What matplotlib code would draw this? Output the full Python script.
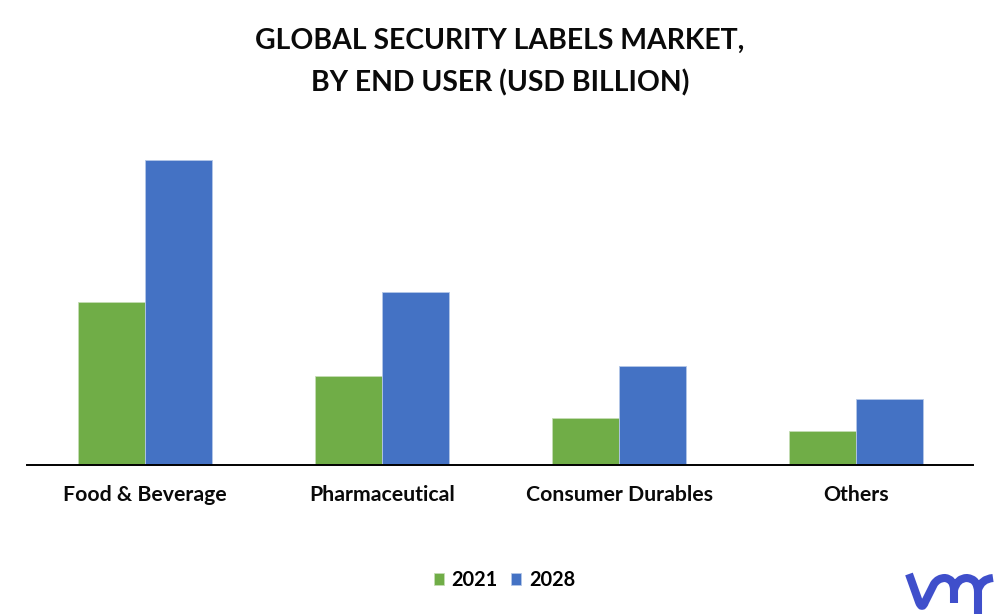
import matplotlib
matplotlib.use("Agg")
import matplotlib.pyplot as plt
from matplotlib.path import Path
from matplotlib.patches import PathPatch

categories = ["Food & Beverage", "Pharmaceutical", "Consumer Durables", "Others"]
values_2021 = [16.3, 8.9, 4.7, 3.4]
values_2028 = [30.5, 17.3, 9.9, 6.6]
title = "GLOBAL SECURITY LABELS MARKET,\nBY END USER (USD BILLION)"
GREEN, BLUE = "#70AD47", "#4472C4"

W, H = 999, 614
plt.rcParams["font.family"] = ["Lato", "DejaVu Sans"]
plt.rcParams["font.weight"] = "bold"
fig = plt.figure(figsize=(W / 100, H / 100), dpi=100)
ax = fig.add_axes([26.5 / W, 1 - 465 / H, 948 / W, 305 / H])

bw = 67 / 237
xs = list(range(len(categories)))
ax.bar([x - bw / 2 for x in xs], values_2021, bw, color=GREEN, edgecolor="#C5DDB5", linewidth=0.6, label="2021")
ax.bar([x + bw / 2 for x in xs], values_2028, bw, color=BLUE, edgecolor="#B4C7E7", linewidth=0.6, label="2028")
ax.set_xlim(-0.5, 3.5)
ax.set_ylim(0, 30.5)
ax.set_yticks([])
ax.set_xticks(xs)
ax.set_xticklabels(categories, fontsize=15.3, fontweight="bold", color="#0A0A0A")
ax.tick_params(axis="x", length=0, pad=14.5)
for s in ("top", "left", "right"):
    ax.spines[s].set_visible(False)
ax.spines["bottom"].set_linewidth(1.4)
ax.spines["bottom"].set_color("#000000")
ax.spines["bottom"].set_bounds(-0.5, 3.493)

fig.text(500 / W, 1 - 62 / H, title, ha="center", va="center", fontsize=20.4, fontweight="bold",
         color="#0A0A0A", linespacing=1.68)

fig.legend(loc="center", bbox_to_anchor=(504.5 / W, 1 - 580 / H), ncol=2, frameon=False, fontsize=14.4,
           handlelength=0.5, handleheight=0.5, handletextpad=0.38, columnspacing=0.68)

# Brand logo, drawn in pixel space of the figure
def px(x, y):
    return (x / W, 1 - y / H)

logo = [
    (Path.MOVETO, (909, 574)), (Path.LINETO, (919, 602)),
    (Path.CURVE3, (922, 610)), (Path.CURVE3, (925, 602)),
    (Path.LINETO, (934, 584)),
    (Path.CURVE3, (938, 578)), (Path.CURVE3, (945, 578)),
    (Path.CURVE3, (954, 579)), (Path.CURVE3, (954, 590)),
    (Path.LINETO, (954, 603)),
    (Path.MOVETO, (954, 590)),
    (Path.CURVE3, (957, 578)), (Path.CURVE3, (967, 578)),
    (Path.CURVE3, (978, 579)), (Path.CURVE3, (978, 592)),
    (Path.LINETO, (978, 614)),
    (Path.MOVETO, (978, 590)),
    (Path.CURVE3, (981, 579)), (Path.CURVE3, (993, 578)),
]
codes, verts = zip(*logo)
fig.add_artist(PathPatch(Path([px(*v) for v in verts], codes), transform=fig.transFigure,
                         fill=False, edgecolor="#3F4FCB", linewidth=5.8, capstyle="butt", joinstyle="round"))

fig.savefig("out.png", dpi=100)
